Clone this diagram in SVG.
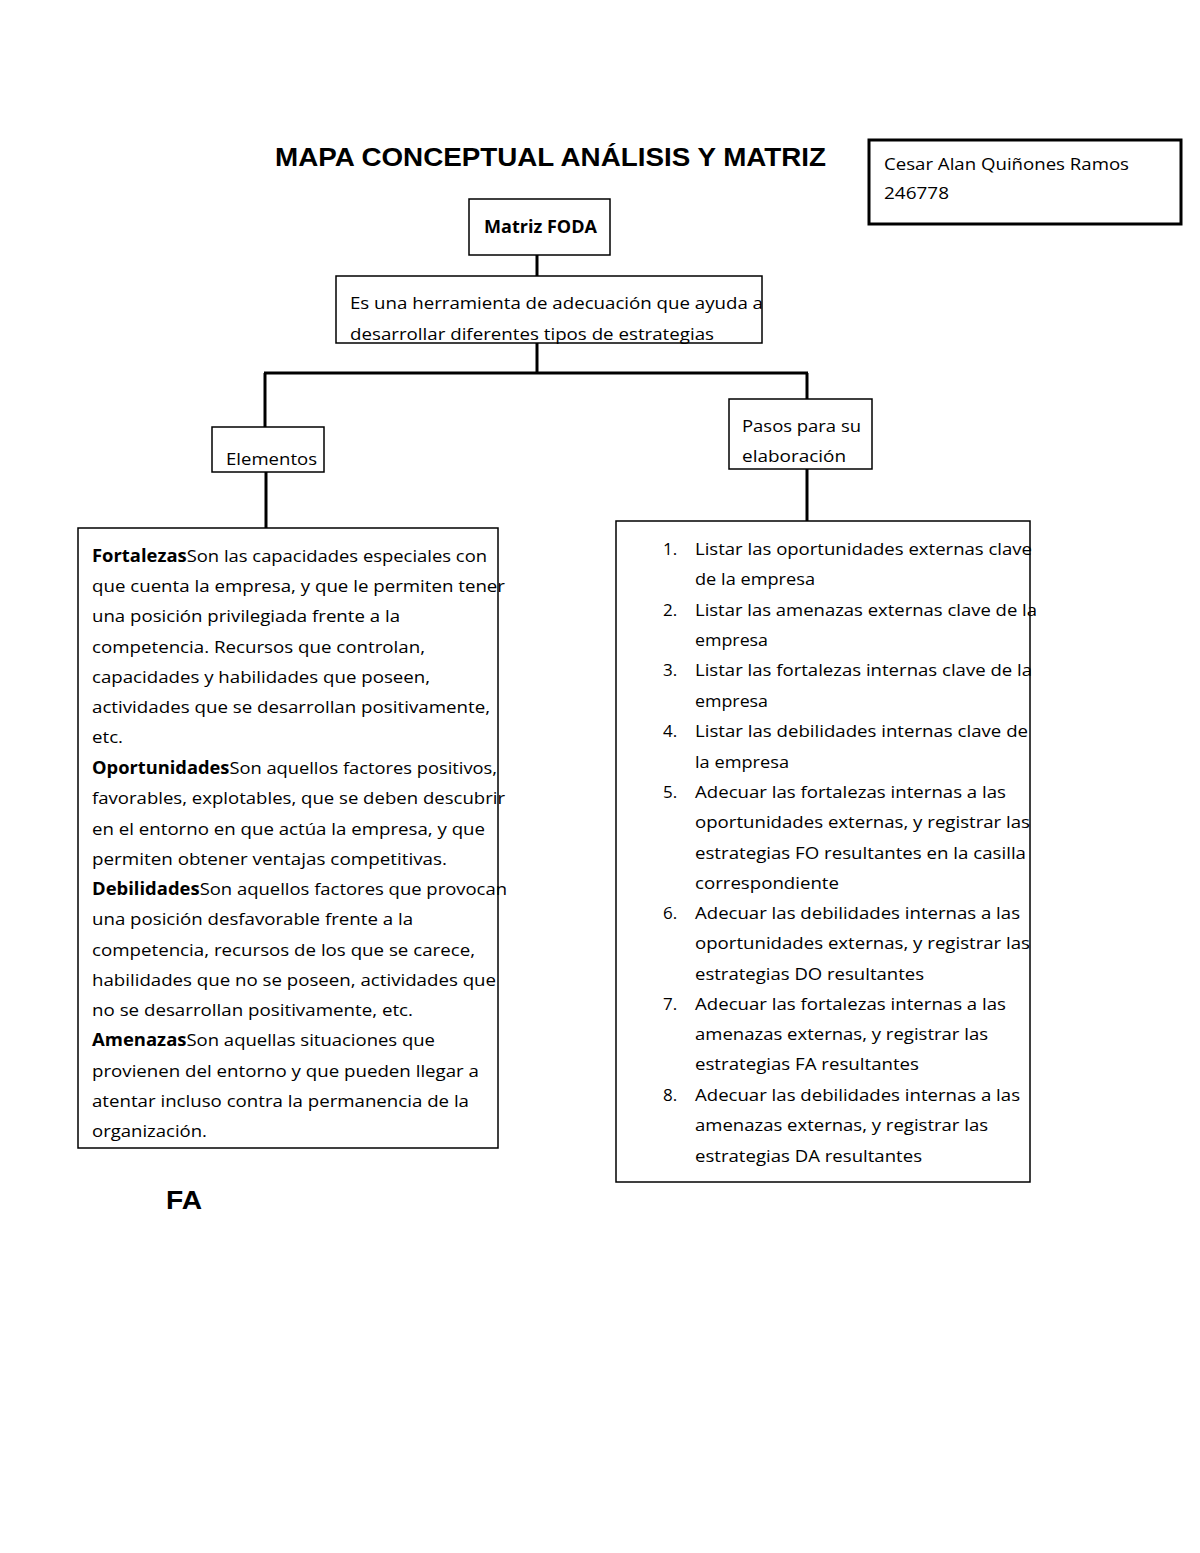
<svg xmlns="http://www.w3.org/2000/svg" width="1200" height="1553" viewBox="0 0 1200 1553">
<style>
.box{fill:#fff;stroke:#000;stroke-width:1.5}
.conn{stroke:#000;stroke-width:3;fill:none}
.t{font-family:"Open Sans","Noto Sans",sans-serif;font-size:17px;fill:#000}
.b{font-weight:bold}
.h{font-family:"Liberation Sans",Arial,sans-serif;font-weight:bold;font-size:26px;fill:#000}
</style>
<rect width="1200" height="1553" fill="#fff"/>
<text class="h" x="275" y="166" textLength="551" lengthAdjust="spacingAndGlyphs">MAPA CONCEPTUAL ANÁLISIS Y MATRIZ</text>
<g id="author">
<rect x="869" y="140" width="312" height="84" fill="#fff" stroke="#000" stroke-width="3"/>
<text class="t" x="884" y="170" textLength="245" lengthAdjust="spacingAndGlyphs">Cesar Alan Quiñones Ramos</text>
<text class="t" x="884" y="199" textLength="65" lengthAdjust="spacingAndGlyphs">246778</text>
</g>
<g id="connectors">
<line class="conn" x1="537" y1="255" x2="537" y2="276"/>
<line class="conn" x1="537" y1="343" x2="537" y2="373"/>
<line class="conn" x1="264" y1="373" x2="808" y2="373"/>
<line class="conn" x1="265" y1="373" x2="265" y2="427"/>
<line class="conn" x1="807" y1="373" x2="807" y2="399"/>
<line class="conn" x1="266" y1="472" x2="266" y2="528"/>
<line class="conn" x1="807" y1="469" x2="807" y2="521"/>
</g>
<g id="matriz">
<rect class="box" x="469" y="199" width="141" height="56"/>
<text class="t b" x="484" y="233" textLength="113" lengthAdjust="spacingAndGlyphs">Matriz FODA</text>
</g>
<g id="definicion">
<rect class="box" x="336" y="276" width="426" height="67"/>
<text class="t" x="350" y="309" textLength="413" lengthAdjust="spacingAndGlyphs">Es una herramienta de adecuación que ayuda a</text>
<text class="t" x="350" y="340" textLength="364" lengthAdjust="spacingAndGlyphs">desarrollar diferentes tipos de estrategias</text>
</g>
<g id="elementos">
<rect class="box" x="212" y="427" width="112" height="45"/>
<text class="t" x="226" y="465" textLength="91" lengthAdjust="spacingAndGlyphs">Elementos</text>
</g>
<g id="pasos">
<rect class="box" x="729" y="399" width="143" height="70"/>
<text class="t" x="742" y="432" textLength="119" lengthAdjust="spacingAndGlyphs">Pasos para su</text>
<text class="t" x="742" y="462" textLength="104" lengthAdjust="spacingAndGlyphs">elaboración</text>
</g>
<g id="elementos-detalle">
<rect class="box" x="78" y="528" width="420" height="620"/>
<text class="t" x="92" y="562" textLength="395" lengthAdjust="spacingAndGlyphs"><tspan class="b">Fortalezas</tspan>Son las capacidades especiales con</text>
<text class="t" x="92" y="592" textLength="413" lengthAdjust="spacingAndGlyphs">que cuenta la empresa, y que le permiten tener</text>
<text class="t" x="92" y="622" textLength="308" lengthAdjust="spacingAndGlyphs">una posición privilegiada frente a la</text>
<text class="t" x="92" y="653" textLength="333" lengthAdjust="spacingAndGlyphs">competencia. Recursos que controlan,</text>
<text class="t" x="92" y="683" textLength="338" lengthAdjust="spacingAndGlyphs">capacidades y habilidades que poseen,</text>
<text class="t" x="92" y="713" textLength="398" lengthAdjust="spacingAndGlyphs">actividades que se desarrollan positivamente,</text>
<text class="t" x="92" y="743" textLength="31" lengthAdjust="spacingAndGlyphs">etc.</text>
<text class="t" x="92" y="774" textLength="405" lengthAdjust="spacingAndGlyphs"><tspan class="b">Oportunidades</tspan>Son aquellos factores positivos,</text>
<text class="t" x="92" y="804" textLength="413" lengthAdjust="spacingAndGlyphs">favorables, explotables, que se deben descubrir</text>
<text class="t" x="92" y="835" textLength="393" lengthAdjust="spacingAndGlyphs">en el entorno en que actúa la empresa, y que</text>
<text class="t" x="92" y="865" textLength="355" lengthAdjust="spacingAndGlyphs">permiten obtener ventajas competitivas.</text>
<text class="t" x="92" y="895" textLength="415" lengthAdjust="spacingAndGlyphs"><tspan class="b">Debilidades</tspan>Son aquellos factores que provocan</text>
<text class="t" x="92" y="925" textLength="321" lengthAdjust="spacingAndGlyphs">una posición desfavorable frente a la</text>
<text class="t" x="92" y="956" textLength="383" lengthAdjust="spacingAndGlyphs">competencia, recursos de los que se carece,</text>
<text class="t" x="92" y="986" textLength="404" lengthAdjust="spacingAndGlyphs">habilidades que no se poseen, actividades que</text>
<text class="t" x="92" y="1016" textLength="321" lengthAdjust="spacingAndGlyphs">no se desarrollan positivamente, etc.</text>
<text class="t" x="92" y="1046" textLength="343" lengthAdjust="spacingAndGlyphs"><tspan class="b">Amenazas</tspan>Son aquellas situaciones que</text>
<text class="t" x="92" y="1077" textLength="387" lengthAdjust="spacingAndGlyphs">provienen del entorno y que pueden llegar a</text>
<text class="t" x="92" y="1107" textLength="377" lengthAdjust="spacingAndGlyphs">atentar incluso contra la permanencia de la</text>
<text class="t" x="92" y="1137" textLength="115" lengthAdjust="spacingAndGlyphs">organización.</text>
</g>
<g id="pasos-detalle">
<rect class="box" x="616" y="521" width="414" height="661"/>
<text class="t" x="663" y="555">1.</text>
<text class="t" x="695" y="555" textLength="337" lengthAdjust="spacingAndGlyphs">Listar las oportunidades externas clave</text>
<text class="t" x="695" y="585" textLength="120" lengthAdjust="spacingAndGlyphs">de la empresa</text>
<text class="t" x="663" y="616">2.</text>
<text class="t" x="695" y="616" textLength="342" lengthAdjust="spacingAndGlyphs">Listar las amenazas externas clave de la</text>
<text class="t" x="695" y="646" textLength="73" lengthAdjust="spacingAndGlyphs">empresa</text>
<text class="t" x="663" y="676">3.</text>
<text class="t" x="695" y="676" textLength="337" lengthAdjust="spacingAndGlyphs">Listar las fortalezas internas clave de la</text>
<text class="t" x="695" y="707" textLength="73" lengthAdjust="spacingAndGlyphs">empresa</text>
<text class="t" x="663" y="737">4.</text>
<text class="t" x="695" y="737" textLength="333" lengthAdjust="spacingAndGlyphs">Listar las debilidades internas clave de</text>
<text class="t" x="695" y="768" textLength="94" lengthAdjust="spacingAndGlyphs">la empresa</text>
<text class="t" x="663" y="798">5.</text>
<text class="t" x="695" y="798" textLength="311" lengthAdjust="spacingAndGlyphs">Adecuar las fortalezas internas a las</text>
<text class="t" x="695" y="828" textLength="335" lengthAdjust="spacingAndGlyphs">oportunidades externas, y registrar las</text>
<text class="t" x="695" y="859" textLength="331" lengthAdjust="spacingAndGlyphs">estrategias FO resultantes en la casilla</text>
<text class="t" x="695" y="889" textLength="144" lengthAdjust="spacingAndGlyphs">correspondiente</text>
<text class="t" x="663" y="919">6.</text>
<text class="t" x="695" y="919" textLength="325" lengthAdjust="spacingAndGlyphs">Adecuar las debilidades internas a las</text>
<text class="t" x="695" y="949" textLength="335" lengthAdjust="spacingAndGlyphs">oportunidades externas, y registrar las</text>
<text class="t" x="695" y="980" textLength="229" lengthAdjust="spacingAndGlyphs">estrategias DO resultantes</text>
<text class="t" x="663" y="1010">7.</text>
<text class="t" x="695" y="1010" textLength="311" lengthAdjust="spacingAndGlyphs">Adecuar las fortalezas internas a las</text>
<text class="t" x="695" y="1040" textLength="293" lengthAdjust="spacingAndGlyphs">amenazas externas, y registrar las</text>
<text class="t" x="695" y="1070" textLength="224" lengthAdjust="spacingAndGlyphs">estrategias FA resultantes</text>
<text class="t" x="663" y="1101">8.</text>
<text class="t" x="695" y="1101" textLength="325" lengthAdjust="spacingAndGlyphs">Adecuar las debilidades internas a las</text>
<text class="t" x="695" y="1131" textLength="293" lengthAdjust="spacingAndGlyphs">amenazas externas, y registrar las</text>
<text class="t" x="695" y="1162" textLength="227" lengthAdjust="spacingAndGlyphs">estrategias DA resultantes</text>
</g>
<text class="h" x="166" y="1209" textLength="36" lengthAdjust="spacingAndGlyphs">FA</text>
</svg>
